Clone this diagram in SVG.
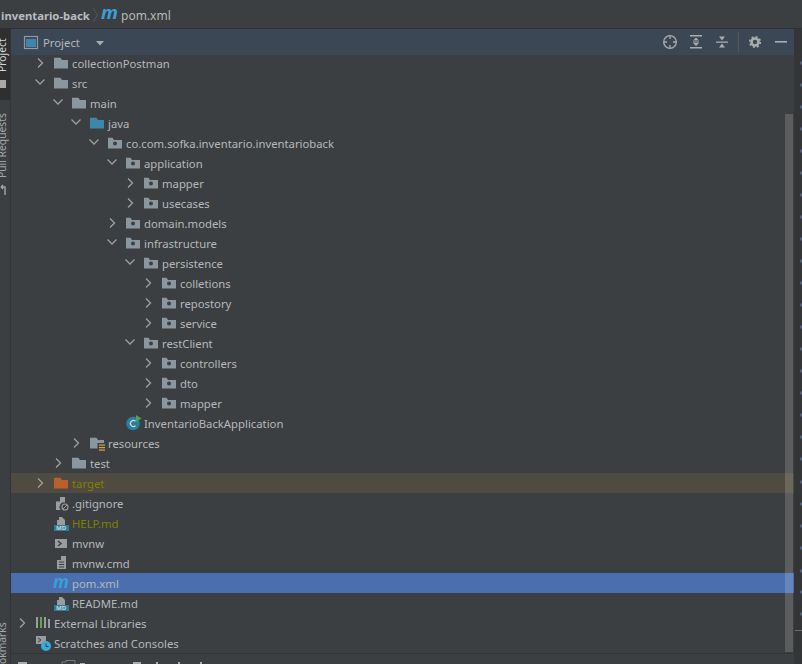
<svg xmlns="http://www.w3.org/2000/svg" width="802" height="664" viewBox="0 0 802 664">
<style>
text{font-family:"Noto Sans","Open Sans",sans-serif;font-size:11.3px;fill:#b4b8bb}
.t{fill:#808000}
.side{font-size:10.300px;fill:#a3a7aa}
.ch{fill:none;stroke:#9da0a2;stroke-width:1.3}
.f{fill:#8b979f}
.g{fill:#9a9da0}
.m{font-size:18px;font-weight:bold;font-style:italic;fill:#389fd6}
</style>
<defs>
<path id="open" class="ch" d="M-4.500-3.500 0 1 4.500-3.500"/>
<path id="closed" class="ch" d="M-2-4.500 2.500 0-2 4.500"/>
<path id="folder" d="M0-5.300H6.500L8-3H14V5.500H0Z"/>
<g id="pkg"><path class="f" d="M0-5.300H4.500L6-3H14V5.500H0Z"/><circle cx="7" cy="0.500" r="2" fill="#3c3f41"/></g>
<g id="md"><path class="g" d="M3-8H8V-5H5V-8ZM8-8 11-5V0H3V-5H8Z"/><rect x="0" y="0" width="15" height="6" fill="#2b7f9e"/><text x="2" y="5.200" style="font-size:6px;font-weight:bold;fill:#cfd4d6">MD</text></g>
</defs>
<rect width="802" height="664" fill="#3c3f41"/>
<rect y="28" width="802" height="1" fill="#2f3133"/>
<rect x="0" y="29" width="10" height="71" fill="#2d2f30"/>
<rect x="10" y="29" width="1" height="635" fill="#323435"/>
<rect x="11" y="29" width="783" height="26" fill="#3b4754"/>
<rect x="794" y="29" width="8" height="635" fill="#333537"/>
<g id="breadcrumb">
<text x="1" y="19.500" style="font-weight:bold;font-size:11.300px;fill:#b8bcbf">inventario-back</text>
<path d="M93 8 97.500 15 93 22" fill="none" stroke="#55585a"/>
<text class="m" x="101" y="19" textLength="17" lengthAdjust="spacingAndGlyphs">m</text>
<text x="121" y="19.500" style="font-size:12px">pom.xml</text>
</g>
<g id="side-tabs">
<text class="side" style="fill:#d4d6d8" transform="translate(6 72) rotate(-90)">Project</text>
<rect x="0" y="80" width="6" height="8" fill="#a9a9a9"/>
<text class="side" transform="translate(6 178) rotate(-90)">Pull Requests</text>
<path d="M1 187H5V195M1 187 3 185M1 187 3 189" fill="none" stroke="#a3a7aa" stroke-width="1.400"/>
<text class="side" transform="translate(6 677) rotate(-90)">Bookmarks</text>
</g>
<g id="toolbar">
<rect x="24.500" y="36.500" width="13" height="12" fill="none" stroke="#8e9aa3" stroke-width="1.200"/>
<rect x="26" y="39" width="10" height="8" fill="#3d87ab"/>
<text x="43" y="47">Project</text>
<path d="M96 41H104L100 45.500Z" fill="#a9acae"/>
<g fill="none" stroke="#a9acae" stroke-width="1.300"><circle cx="670" cy="42" r="6.300"/><path d="M670 35.500V39M670 45V48.500M663.500 42H667M673 42H676.500"/></g>
<g fill="#a9acae"><rect x="690" y="35" width="12" height="1.500"/><rect x="690" y="47" width="12" height="1.500"/><path d="M696 37.500 699 40.500H693ZM696 46 693 43H699Z"/><rect x="693" y="41.500" width="6" height="1"/>
<rect x="716" y="41.500" width="12" height="1.300"/><path d="M722 40.500 719 36.500H725ZM722 43.500 725 47.500H719Z"/></g>
<rect x="738" y="32" width="1" height="20" fill="#53585d"/>
<g fill="none" stroke="#a9acae"><circle cx="755" cy="42" r="3.500" stroke-width="2.600"/><circle cx="755" cy="42" r="5.300" stroke-width="1.600" stroke-dasharray="2 2.160"/></g>
<rect x="775" y="41" width="12" height="1.600" fill="#a9acae"/>
</g>
<g id="highlights">
<rect x="11" y="473" width="783" height="20" fill="#4f4b41"/>
<rect x="11" y="573" width="783" height="20" fill="#4b6eaf"/>
</g>
<g id="connectors">
<use href="#closed" x="40" y="63"/><use href="#open" x="40" y="83"/><use href="#open" x="58" y="103"/><use href="#open" x="76" y="123"/><use href="#open" x="94" y="143"/><use href="#open" x="112" y="163"/>
<use href="#closed" x="130" y="183"/><use href="#closed" x="130" y="203"/><use href="#closed" x="112" y="223"/><use href="#open" x="112" y="243"/><use href="#open" x="130" y="263"/>
<use href="#closed" x="148" y="283"/><use href="#closed" x="148" y="303"/><use href="#closed" x="148" y="323"/><use href="#open" x="130" y="343"/>
<use href="#closed" x="148" y="363"/><use href="#closed" x="148" y="383"/><use href="#closed" x="148" y="403"/>
<use href="#closed" x="76" y="443"/><use href="#closed" x="58" y="463"/><use href="#closed" x="40" y="483"/><use href="#closed" x="22" y="623"/>
</g>
<g id="collectionPostman"><use href="#folder" x="54" y="63" class="f"/><text x="72" y="68">collectionPostman</text></g>
<g id="src"><use href="#folder" x="54" y="83" class="f"/><text x="72" y="88">src</text></g>
<g id="main"><use href="#folder" x="72" y="103" class="f"/><text x="90" y="108">main</text></g>
<g id="java"><use href="#folder" x="90" y="123" fill="#3d87ab"/><text x="108" y="128">java</text></g>
<g id="pkg-root"><use href="#pkg" x="108" y="143"/><text x="126" y="148">co.com.sofka.inventario.inventarioback</text></g>
<g id="application"><use href="#pkg" x="126" y="163"/><text x="144" y="168">application</text></g>
<g id="mapper-app"><use href="#pkg" x="144" y="183"/><text x="162" y="188">mapper</text></g>
<g id="usecases"><use href="#pkg" x="144" y="203"/><text x="162" y="208">usecases</text></g>
<g id="domain-models"><use href="#pkg" x="126" y="223"/><text x="144" y="228">domain.models</text></g>
<g id="infrastructure"><use href="#pkg" x="126" y="243"/><text x="144" y="248">infrastructure</text></g>
<g id="persistence"><use href="#pkg" x="144" y="263"/><text x="162" y="268">persistence</text></g>
<g id="colletions"><use href="#pkg" x="162" y="283"/><text x="180" y="288">colletions</text></g>
<g id="repostory"><use href="#pkg" x="162" y="303"/><text x="180" y="308">repostory</text></g>
<g id="service"><use href="#pkg" x="162" y="323"/><text x="180" y="328">service</text></g>
<g id="restClient"><use href="#pkg" x="144" y="343"/><text x="162" y="348">restClient</text></g>
<g id="controllers"><use href="#pkg" x="162" y="363"/><text x="180" y="368">controllers</text></g>
<g id="dto"><use href="#pkg" x="162" y="383"/><text x="180" y="388">dto</text></g>
<g id="mapper-rest"><use href="#pkg" x="162" y="403"/><text x="180" y="408">mapper</text></g>
<g id="InventarioBackApplication">
<circle cx="133" cy="423.500" r="6.800" fill="#2b7f9e"/><path d="M135.500 421.300A3 3 0 1 0 135.500 425.700" fill="none" stroke="#d5dadd" stroke-width="1.200"/><path d="M136 415V422L141.500 418.500Z" fill="#4ca64c"/>
<text x="144" y="428">InventarioBackApplication</text></g>
<g id="resources"><use href="#folder" x="90" y="443" class="f"/><rect x="97.500" y="443" width="8" height="9" fill="#3c3f41"/><g fill="#d9a343"><rect x="99" y="444.500" width="6" height="1.200"/><rect x="99" y="447" width="6" height="1.200"/><rect x="99" y="449.500" width="6" height="1.200"/></g><text x="108" y="448">resources</text></g>
<g id="test"><use href="#folder" x="72" y="463" class="f"/><text x="90" y="468">test</text></g>
<g id="target"><use href="#folder" x="54" y="483" fill="#b8602e"/><text class="t" x="72" y="488">target</text></g>
<g id="gitignore"><path class="g" d="M60 497H65V502.500A4.500 4.500 0 0 0 60.800 510H56V501.500H60Z"/><circle cx="65" cy="507" r="3" fill="none" stroke="#9a9da0" stroke-width="1.100"/><path d="M63 509 67 505" stroke="#9a9da0"/><text x="72" y="508">.gitignore</text></g>
<g id="help"><use href="#md" x="54" y="525"/><text class="t" x="72" y="528">HELP.md</text></g>
<g id="mvnw"><rect x="55" y="539" width="12" height="9" class="g"/><path d="M58 541 61 543.500 58 546" fill="none" stroke="#3c3f41" stroke-width="1.500"/><text x="72" y="548">mvnw</text></g>
<g id="mvnw-cmd"><path class="g" d="M61 556H66V569H57V560H61Z"/><path d="M59 562H64M59 564.500H64M59 567H64" stroke="#3c3f41"/><text x="72" y="568">mvnw.cmd</text></g>
<g id="pom"><text class="m" x="53" y="588" textLength="16" lengthAdjust="spacingAndGlyphs">m</text><text x="72" y="588">pom.xml</text></g>
<g id="readme"><use href="#md" x="54" y="605"/><text x="72" y="608">README.md</text></g>
<g id="external"><g fill="#9a9da0"><rect x="36" y="617" width="2" height="11"/><rect x="44" y="617" width="2" height="11"/><rect x="48" y="619" width="2" height="9"/></g><rect x="40" y="617" width="2" height="11" fill="#5bab4b"/><text x="54" y="628">External Libraries</text></g>
<g id="scratches"><rect x="36" y="636" width="10" height="8" class="g"/><path d="M38 638 41 640 38 642" fill="none" stroke="#3c3f41"/><circle cx="46" cy="646" r="5" fill="#3ba9dd"/><path d="M46 643.500V646.500H48.500" fill="none" stroke="#3c3f41"/><text x="54" y="648">Scratches and Consoles</text></g>
<g id="scrollbar">
<rect x="785" y="114" width="8" height="538" fill="#fff" fill-opacity=".16"/>
<path d="M800 63h2M800 85h2M800 107h2M800 129h2M800 151h2M800 173h2M800 195h2M800 217h2M800 239h2M800 261h2M800 283h2M800 305h2M800 327h2M800 349h2M800 371h2M800 393h2M800 415h2M800 437h2M800 459h2M800 482h2M800 504h2M800 526h2M800 548h2M800 571h2M800 592h2M800 614h2" stroke="#4f5d78" stroke-width="3"/>
<rect x="795" y="630" width="7" height="1" fill="#6a6d6f"/>
</g>
<g id="status">
<rect x="11" y="653" width="783" height="1" fill="#323435"/>
<g fill="#a9acae"><rect x="18" y="662" width="9" height="2"/><rect x="80" y="663" width="5" height="1"/><rect x="133" y="662" width="8" height="2"/><rect x="156" y="662" width="2" height="2"/><rect x="178" y="662" width="2" height="2"/><rect x="200" y="662" width="2" height="2"/></g>
<path d="M62 664V662H66V660.500H75V664" fill="none" stroke="#77797b"/>
</g>
</svg>
